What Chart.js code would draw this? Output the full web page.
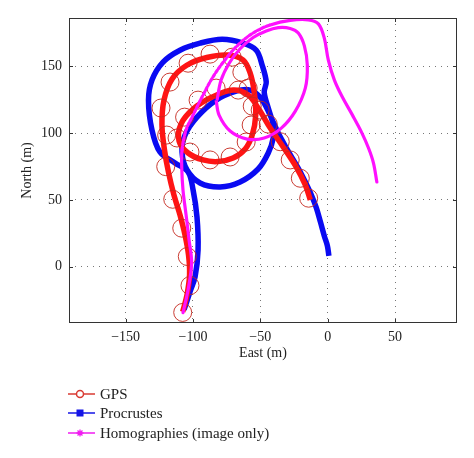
<!DOCTYPE html>
<html>
<head>
<meta charset="utf-8">
<script src="https://cdn.jsdelivr.net/npm/chart.js@4/dist/chart.umd.min.js"></script>
<style>
  html, body { margin: 0; padding: 0; background: #fff; }
  #wrap { width: 474px; height: 458px; position: relative; }
</style>
</head>
<body>
<div id="wrap"><canvas id="track"></canvas></div>
<script>
// tick values
const xTicks = [-150, -100, -50, 0, 50];
const yTicks = [0, 50, 100, 150];

// GPS track (thick red) and GPS fixes (big open circles)
const gpsTrackEast  = [-107.6, -104.4, -102.5, -103.3, -105.9, -109.6, -114.1, -118.2, -121.1, -123, -121.5, -115.6, -104.6, -89.7, -73.9, -62.7, -57.5, -54.5, -53.4, -56, -61.2, -70.2, -81.3, -92.5, -103.6, -110.3, -108.9, -99.9, -85.8, -70.2, -59, -51.6, -42.6, -33, -23.3, -16.6, -12.9];
const gpsTrackNorth = [-33.6, -20.9, -6, 9, 23.9, 38.8, 53.7, 70.9, 87.3, 106, 124.6, 140.3, 150.7, 156.5, 158.3, 154.5, 144.8, 130.6, 113.4, 98.5, 88.1, 81.3, 78.7, 79.9, 85.1, 94, 106.7, 117.9, 126.9, 132.1, 128.4, 118.7, 103.7, 89.6, 74.6, 61.2, 50];
const gpsFixEast  = [-107.6, -102.2, -104.2, -108.3, -115, -120.2, -119.5, -123.7, -117, -103.6, -87.3, -70.9, -63.7, -59, -56, -56.8, -60.5, -72.4, -87.3, -102.2, -111.8, -106.2, -96.2, -82.8, -66.4, -50.1, -44.1, -35.2, -27.8, -20.3, -14.1];
const gpsFixNorth = [-34.1, -14, 7.7, 28.9, 50.5, 74.9, 98.5, 118.7, 138.1, 152.2, 159, 156.7, 145.5, 133.6, 120.1, 106, 93.3, 82.1, 79.9, 85.8, 96.3, 111.9, 124.6, 133.6, 132.1, 117.2, 106.7, 93.5, 79.9, 66.2, 51.3];

// Procrustes estimate
const procEast  = [-106.6, -102.2, -98.4, -96.2, -97, -99.9, -103.6, -113.3, -124.5, -130.4, -133, -130.4, -122.2, -109.6, -94.7, -78.3, -62.7, -53, -48.6, -45.6, -47.1, -44.1, -40.4, -40.4, -44.1, -51.6, -65, -79.8, -94.7, -104.4, -108.1, -105.9, -97, -82.8, -67.9, -57.5, -50.1, -45.6, -41.1, -36.7, -31.5, -26.3, -21.1, -16.6, -12.1, -8.4, -5.4, -2.5, -0.2, 0.9];
const procNorth = [-32.1, -18.7, -7.5, 12.7, 37.3, 57.5, 70.9, 77.6, 85.8, 102.2, 124.6, 139.6, 153, 161.9, 167.2, 170.1, 167.2, 161.9, 150.7, 138.1, 130.6, 118.7, 106, 96.3, 85.1, 73.1, 63.4, 59.7, 62.7, 72.4, 85.8, 98.5, 111.9, 124.6, 131.3, 132.1, 126.9, 119.4, 109.7, 100, 90.3, 81.3, 72.4, 63.4, 53.7, 44, 33.6, 23.1, 15.7, 8.2];

// Homographies (image only): main run and the inner loop
const homEast  = [-107.4, -103.6, -101, -102.9, -105.1, -107.4, -108.3, -108.1, -105.1, -99.9, -92.5, -84.3, -74.6, -65, -54.5, -42.6, -27.8, -14.4, -6.9, -2.5, 0.5, 5, 10.9, 18.4, 25.1, 30.3, 34, 36.5];
const homNorth = [-34.3, -17.2, 3, 20.1, 38.8, 57.5, 73.9, 87.3, 102.2, 113.4, 128.4, 143.3, 156.7, 167.3, 175.3, 180.8, 184.2, 184.6, 181.6, 170.9, 154.5, 139.6, 126.9, 113.4, 100.7, 88.8, 77.6, 63.4];
const homLoopEast  = [-82.1, -79.1, -73.1, -65, -55.3, -45.6, -36.7, -27.8, -21.8, -17.3, -15.1, -16.6, -24, -34.4, -47.1, -59.8, -72.4, -80.6, -82.8];
const homLoopNorth = [124.6, 139.6, 152.2, 163, 171.4, 176.3, 178.8, 178.2, 174.8, 165.2, 150.7, 133.6, 116.4, 103.7, 96.3, 95.5, 101.5, 113.4, 124.6];

const seriesNames = ['GPS', 'Procrustes', 'Homographies (image only)'];

const zip = (xs, ys) => xs.map((x, i) => ({ x: x, y: ys[i] }));
const SERIF = "'Liberation Serif', 'DejaVu Serif', serif";
const fmt = v => String(v).replace('-', '\u2212');

// box + inward ticks, matlab style
const boxPlugin = {
  id: 'box',
  afterDatasetsDraw(chart) {
    const { ctx, chartArea: a, scales } = chart;
    ctx.save();
    ctx.strokeStyle = '#333';
    ctx.lineWidth = 1;
    ctx.strokeRect(a.left + 0.5, a.top + 0.5, a.right - a.left - 1, a.bottom - a.top - 1);
    ctx.beginPath();
    xTicks.forEach(v => {
      const px = Math.round(scales.x.getPixelForValue(v)) + 0.5;
      ctx.moveTo(px, a.bottom); ctx.lineTo(px, a.bottom - 4);
      ctx.moveTo(px, a.top); ctx.lineTo(px, a.top + 4);
    });
    yTicks.forEach(v => {
      const py = Math.round(scales.y.getPixelForValue(v)) + 0.5;
      ctx.moveTo(a.left, py); ctx.lineTo(a.left + 4, py);
      ctx.moveTo(a.right, py); ctx.lineTo(a.right - 4, py);
    });
    ctx.stroke();
    ctx.restore();
  }
};

// legend stacked under the axes
const legendPlugin = {
  id: 'stackLegend',
  afterDraw(chart) {
    const ctx = chart.ctx;
    const rows = [394, 413, 433];
    const colors = ['#d83a32', '#1515e6', '#f01cf0'];
    ctx.save();
    rows.forEach((y, i) => {
      ctx.strokeStyle = colors[i];
      ctx.lineWidth = 1.5;
      ctx.beginPath(); ctx.moveTo(68, y); ctx.lineTo(95, y); ctx.stroke();
      if (i === 0) {
        ctx.fillStyle = '#fff';
        ctx.beginPath(); ctx.arc(80, y, 3.5, 0, Math.PI * 2); ctx.fill(); ctx.stroke();
      } else if (i === 1) {
        ctx.fillStyle = colors[i];
        ctx.fillRect(76.5, y - 3.5, 7, 7);
      } else {
        ctx.lineWidth = 1.3;
        ctx.beginPath();
        for (let k = 0; k < 4; k++) {
          const t = k * Math.PI / 4;
          ctx.moveTo(80 - 3.5 * Math.cos(t), y - 3.5 * Math.sin(t));
          ctx.lineTo(80 + 3.5 * Math.cos(t), y + 3.5 * Math.sin(t));
        }
        ctx.stroke();
      }
      ctx.fillStyle = '#222';
      ctx.font = '15px ' + SERIF;
      ctx.textBaseline = 'middle';
      ctx.fillText(seriesNames[i], 100, y + 1);
    });
    ctx.restore();
  }
};

new Chart(document.getElementById('track'), {
  type: 'scatter',
  data: {
    datasets: [
      {
        label: seriesNames[2],
        data: zip(homEast, homNorth),
        showLine: true, tension: 0.35,
        borderColor: '#ff10ff', borderWidth: 3.2, borderCapStyle: 'round',
        pointRadius: 0,
        segment: { borderDash: c => (c.p0DataIndex >= 7 && c.p1DataIndex <= 15) ? [3, 2] : undefined },
        order: 0
      },
      {
        label: seriesNames[2] + ' loop',
        data: zip(homLoopEast, homLoopNorth),
        showLine: true, tension: 0.35,
        borderColor: '#ff10ff', borderWidth: 3.2,
        pointRadius: 0, order: 0
      },
      {
        label: seriesNames[0] + ' fixes',
        data: zip(gpsFixEast, gpsFixNorth),
        showLine: false,
        pointStyle: 'circle', pointRadius: 9,
        pointBorderColor: 'rgba(196,40,30,0.9)', pointBorderWidth: 1,
        pointBackgroundColor: 'rgba(0,0,0,0)',
        order: 1
      },
      {
        label: seriesNames[0],
        data: zip(gpsTrackEast, gpsTrackNorth),
        showLine: true, tension: 0.35,
        borderColor: '#ff1414', borderWidth: 5.5,
        pointRadius: 0, order: 1
      },
      {
        label: seriesNames[1],
        data: zip(procEast, procNorth),
        showLine: true, tension: 0.35,
        borderColor: '#0a0af2', borderWidth: 5.5, borderJoinStyle: 'round',
        pointRadius: 0, order: 2
      }
    ]
  },
  options: {
    responsive: true,
    maintainAspectRatio: false,
    animation: false,
    layout: { padding: { top: 18, right: 17, left: 0, bottom: 96 } },
    plugins: { legend: { display: false }, tooltip: { enabled: false } },
    scales: {
      x: {
        type: 'linear', min: -192, max: 96,
        afterBuildTicks: s => { s.ticks = xTicks.map(v => ({ value: v })); },
        afterFit: s => { s.height = 39; },
        ticks: { callback: fmt, padding: 6, color: '#222', font: { family: SERIF, size: 14 }, maxRotation: 0 },
        grid: { color: '#777', lineWidth: 1, drawTicks: false },
        border: { display: false, dash: [1, 5] },
        title: { display: true, text: 'East (m)', color: '#222', font: { family: SERIF, size: 14 }, padding: { top: 0, bottom: 0 } }
      },
      y: {
        type: 'linear', min: -42, max: 186,
        afterBuildTicks: s => { s.ticks = yTicks.map(v => ({ value: v })); },
        afterFit: s => { s.width = 69; },
        ticks: { callback: fmt, padding: 7, color: '#222', font: { family: SERIF, size: 14 } },
        grid: { color: '#777', lineWidth: 1, drawTicks: false },
        border: { display: false, dash: [1, 5] },
        title: { display: true, text: 'North (m)', color: '#222', font: { family: SERIF, size: 14 }, padding: { top: 19, bottom: 0 } }
      }
    }
  },
  plugins: [boxPlugin, legendPlugin]
});
</script>
</body>
</html>
